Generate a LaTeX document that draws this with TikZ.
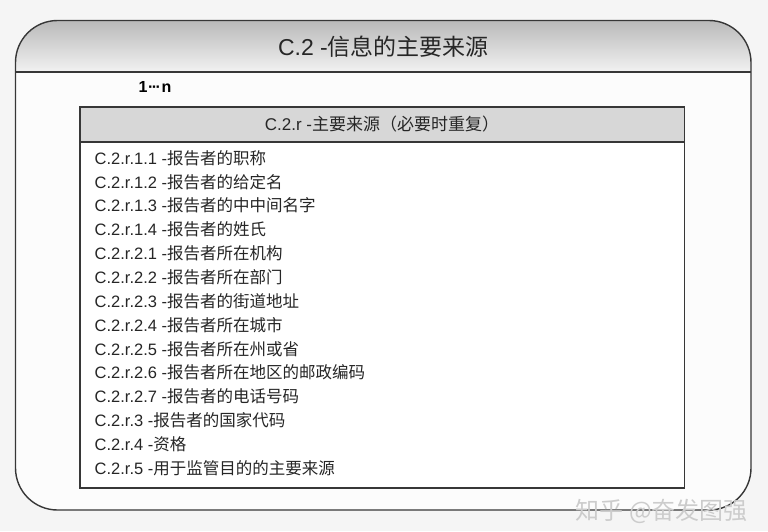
\documentclass[tikz,border=0pt]{standalone}
\usepackage{fontspec}
\setmainfont{Liberation Sans}
\newfontfamily\cjk{Noto Sans CJK SC}
\definecolor{paper}{RGB}{245, 245, 245}
\definecolor{frame}{RGB}{252, 252, 252}
\definecolor{hdtop}{RGB}{185, 185, 185}
\definecolor{hdbot}{RGB}{242, 242, 242}
\definecolor{band}{RGB}{215, 215, 215}
\definecolor{edge}{RGB}{55, 55, 55}

\begin{document}
\begin{tikzpicture}[x=1pt, y=-1pt, line width=1.4pt,
  item/.style={anchor=west, inner sep=0pt, text=black!85, font=\fontsize{16.5}{18}\selectfont}]

\fill[paper] (0, 0) rectangle (768, 531);

% outer frame with shaded header
\begin{scope}
  \clip[rounded corners=42pt] (15.5, 20.5) rectangle (751, 510);
  \fill[frame] (15.5, 20.5) rectangle (751, 510);
  \shade[top color=hdtop, bottom color=hdbot] (15.5, 20.5) rectangle (751, 72);
\end{scope}
\draw[edge, rounded corners=42pt] (15.5, 20.5) rectangle (751, 510);
\draw[edge] (15.5, 72) -- (751, 72);
\node[text=black!85, font=\fontsize{23}{26}\selectfont] (title) at (383.5, 46.5) {C.2 -{\cjk 信息的主要来源}};
\node[font=\bfseries\fontsize{16}{18}\selectfont] (mult) at (155, 87) {1\kern0.5pt·\kern-1.5pt·\kern-1.5pt·\kern0.5pt n};

% inner box
\fill[white] (80, 107) rectangle (684.5, 488);
\fill[band] (80, 107) rectangle (684.5, 142);
\draw[edge, line width=1.2pt] (80, 107) rectangle (684.5, 488);
\draw[edge, line width=1.2pt] (80, 142) -- (684.5, 142);
\node[text=black!85, font=\fontsize{17}{20}\selectfont] (sub) at (382, 124.5) {C.2.r -{\cjk 主要来源（必要时重复）}};

\foreach \code/\name [count=\i] in {
  C.2.r.1.1/报告者的职称, C.2.r.1.2/报告者的给定名, C.2.r.1.3/报告者的中中间名字,
  C.2.r.1.4/报告者的姓氏, C.2.r.2.1/报告者所在机构, C.2.r.2.2/报告者所在部门,
  C.2.r.2.3/报告者的街道地址, C.2.r.2.4/报告者所在城市, C.2.r.2.5/报告者所在州或省,
  C.2.r.2.6/报告者所在地区的邮政编码, C.2.r.2.7/报告者的电话号码,
  C.2.r.3/报告者的国家代码, C.2.r.4/资格, C.2.r.5/用于监管目的的主要来源} {
  \node[item] (it\i) at (94, {158 + 23.85 * (\i - 1)}) {\code\ -{\cjk\name}};
}

% watermark
\node[text=gray!40, font=\cjk\fontsize{24}{26}\selectfont, anchor=east] (mark) at (752, 511) {知乎 @奋发图强};
\end{tikzpicture}
\end{document}
